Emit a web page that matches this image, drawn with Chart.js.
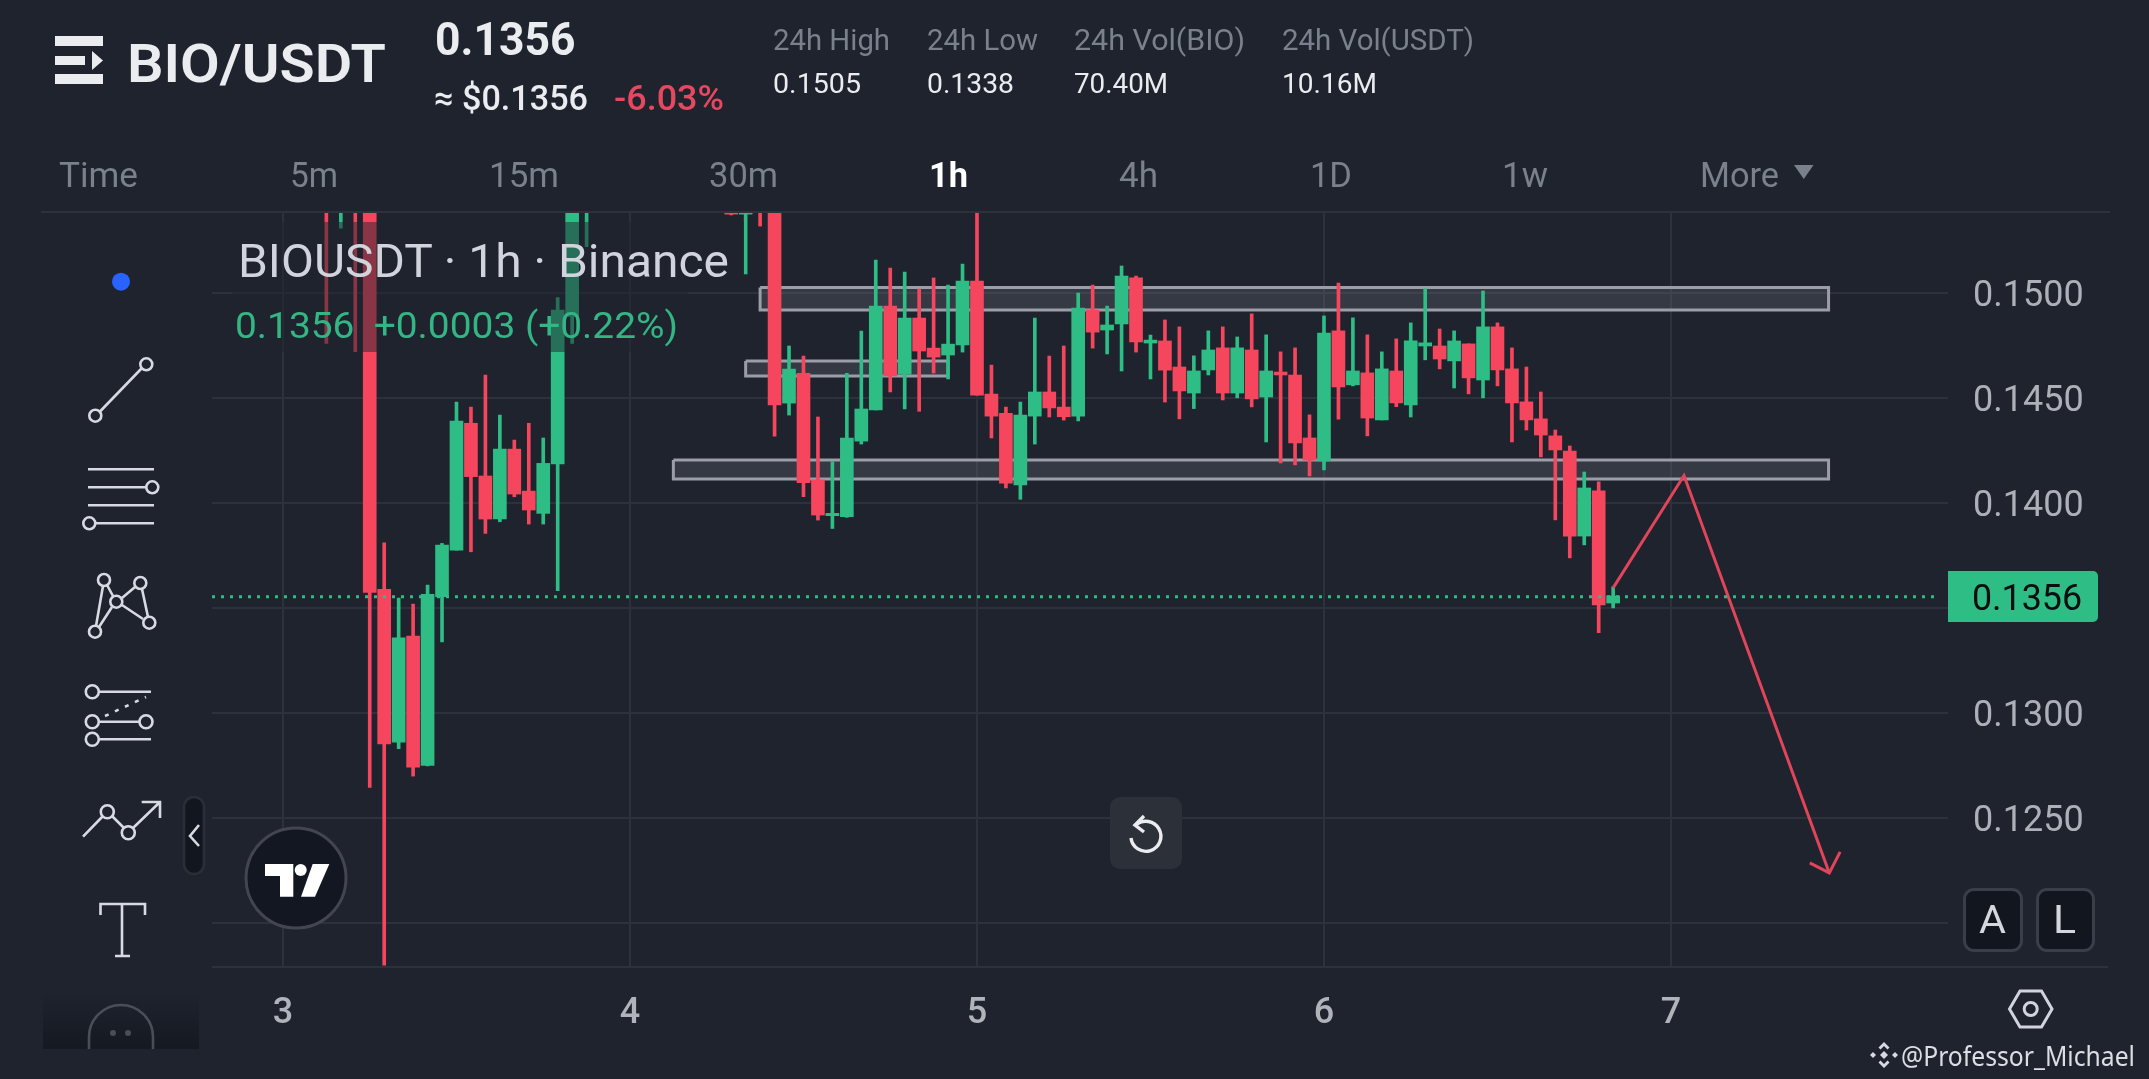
<!DOCTYPE html>
<html><head><meta charset="utf-8">
<script src="https://cdn.jsdelivr.net/npm/chart.js@4/dist/chart.umd.min.js"></script>
<style>
html,body{margin:0;padding:0;background:#1e232e;width:2149px;height:1079px;overflow:hidden}
#c{position:absolute;left:0;top:0;width:2149px;height:1079px}
.t{position:absolute;white-space:pre;transform-origin:0 50%;font-family:Roboto,sans-serif}
.box{position:absolute;box-sizing:border-box}
svg{position:absolute;left:0;top:0}
</style></head><body>
<canvas id="c" width="2149" height="1079"></canvas>
<div class="box" style="left:232px;top:222px;width:512px;height:63px;background:rgba(30,35,46,.5)"></div>
<div class="box" style="left:232px;top:285px;width:456px;height:67px;background:rgba(30,35,46,.5)"></div>
<div class="box" style="left:41px;top:211px;width:2069px;height:2px;background:#2c313b"></div>
<div class="box" style="left:212px;top:966px;width:1896px;height:2px;background:#2c313b"></div>
<div class="box" style="left:1948px;top:571px;width:150px;height:51px;background:#2ebd85;border-radius:0 5px 5px 0"></div>
<div class="box" style="left:1963px;top:888px;width:60px;height:64px;background:#12161f;border:3px solid #3a3e49;border-radius:11px"></div>
<div class="box" style="left:2036px;top:888px;width:59px;height:64px;background:#12161f;border:3px solid #3a3e49;border-radius:11px"></div>
<div class="box" style="left:1110px;top:797px;width:72px;height:72px;background:#2b3039;border-radius:10px"></div>
<div class="box" style="left:43px;top:990px;width:156px;height:59px;background:linear-gradient(#1e232e,#151921)"></div>
<svg width="2149" height="1079" viewBox="0 0 2149 1079" fill="none" stroke="#d8dae2" stroke-width="2.6">
  <!-- menu -->
  <g fill="#eaecef" stroke="none"><rect x="55" y="36" width="48" height="10"/><rect x="55" y="56" width="30" height="9"/><path d="M92 51l11 9.5-11 9.5z"/><rect x="55" y="74" width="48" height="10"/></g>
  <path d="M1794 165h19.5l-9.7 14z" fill="#7a808c" stroke="none"/>
  <circle cx="121" cy="281.7" r="9" fill="#2962ff" stroke="none"/>
  <!-- trend line tool -->
  <path d="M100 411.5L141.5 368.5"/><circle cx="95.3" cy="415.7" r="6"/><circle cx="146.3" cy="364.3" r="6"/>
  <!-- parallel lines -->
  <path d="M88 469.3h66M88 487.3h58M88 505.3h66M96 523.3h58"/><circle cx="152.3" cy="487.3" r="6"/><circle cx="89.3" cy="523.3" r="6"/>
  <!-- pattern -->
  <path d="M96 626L103 586M107 585L113 596M99 627L112 607M122 598L135 587M122 605L143 619M142 589L148 617"/>
  <circle cx="95" cy="631.7" r="6"/><circle cx="104" cy="580" r="6"/><circle cx="116.3" cy="601.7" r="6"/><circle cx="140.3" cy="583" r="6"/><circle cx="149.3" cy="622.7" r="6"/>
  <!-- fib -->
  <path d="M99 691.7h52M99 721.7h41M99 739.3h52"/><path d="M105 716L146 697" stroke-dasharray="4 7"/>
  <circle cx="92.3" cy="691.7" r="6.5"/><circle cx="92.3" cy="721.7" r="6.5"/><circle cx="146" cy="721.7" r="6.5"/><circle cx="92.3" cy="739.3" r="6.5"/>
  <!-- path arrow -->
  <path d="M83 836.7L103 816M112 816L124 828M133 828L160 802M141.7 802H160V818"/><circle cx="107.3" cy="811.7" r="6.5"/><circle cx="128.3" cy="832.7" r="6.5"/>
  <!-- T -->
  <path d="M100.5 915V904H145V915M122 904V956M115 956H130"/>
  <!-- collapse pill -->
  <rect x="184" y="797" width="20" height="77" rx="10" fill="#12161f" stroke="#2a2e38"/>
  <path d="M199 825L190 836L199 846"/>
  <!-- TV logo -->
  <circle cx="296" cy="878" r="50" fill="#131722" stroke="#434651" stroke-width="3"/>
  <g fill="#fff" stroke="none"><path d="M265 864H293.3V896.7H280V876H265z"/><circle cx="300.7" cy="870" r="6"/><path d="M312.7 864H329.3L315 896.7H301z"/></g>
  <!-- bottom partial button -->
  <path d="M89 1049V1037A32 32 0 0 1 153 1037V1049" stroke="#4a4e58"/>
  <circle cx="113" cy="1033" r="3" fill="#4a4e58" stroke="none"/><circle cx="128" cy="1033" r="3" fill="#4a4e58" stroke="none"/>
  <!-- reset -->
  <path d="M1136 825A15 15 0 1 1 1131 838" stroke="#eaecef" stroke-width="3.4"/><path d="M1144 816L1135 825L1144 832" stroke="#eaecef" stroke-width="3.4"/>
  <!-- settings hex -->
  <path d="M2020 991H2041.5L2052 1009L2041.5 1027H2020L2009.5 1009z" stroke="#d1d4dc" stroke-width="3"/><circle cx="2030.7" cy="1009" r="6.5" stroke="#d1d4dc" stroke-width="3"/>
  <!-- watermark diamond -->
  <g fill="#d8dae2" stroke="none"><path d="M1884 1042l5.5 5.5-2 2-3.5-3.5-3.5 3.5-2-2z"/><path d="M1884 1068l5.5-5.5-2-2-3.5 3.5-3.5-3.5-2 2z"/><path d="M1870 1055l3-3 3 3-3 3z"/><path d="M1892 1055l3-3 3 3-3 3z"/><path d="M1884 1051l4 4-4 4-4-4z"/></g>
</svg>
<script>
// ---- price data (hours since the start of day 3; candles entirely above the view are omitted) ----
const candleHours=[3,4,5,6,7,8,9,10,11,12,13,14,15,16,17,18,19,20,21,31,32,33,34,35,36,37,38,39,40,41,42,43,44,45,46,47,48,49,50,51,52,53,54,55,56,57,58,59,60,61,62,63,64,65,66,67,68,69,70,71,72,73,74,75,76,77,78,79,80,81,82,83,84,85,86,87,88,89,90,91,92];
const opens =[.1565,.1545,.156,.1565,.1359,.12863,.13368,.12752,.13555,.13777,.14381,.1413,.13925,.14258,.14058,.13952,.14187,.1489,.1545,.154,.15377,.1552,.155,.14477,.14619,.14111,.13941,.13936,.14296,.14444,.14939,.14615,.14882,.14739,.14706,.14754,.15058,.1452,.14428,.14087,.14415,.1453,.14458,.14415,.1492,.14825,.14854,.15073,.14763,.14773,.14649,.14525,.14635,.1474,.14525,.1473,.14506,.14625,.14611,.14311,.14202,.14821,.14564,.14621,.14397,.1463,.14468,.14749,.14749,.14678,.14759,.14587,.1484,.1464,.14483,.14402,.14321,.14249,.13844,.14059,.13525];
const closes=[.1555,.1555,.1548,.13576,.12854,.13359,.12744,.13566,.13801,.14392,.14127,.13925,.14258,.14044,.13968,.1419,.1492,.155,.155,.15377,.154,.1545,.14468,.14639,.14098,.13944,.13952,.14311,.14449,.14939,.14606,.14882,.14725,.14696,.14758,.15058,.14515,.14415,.14096,.1442,.1453,.14454,.14412,.1493,.14815,.14849,.15082,.14768,.14777,.14634,.14535,.1463,.1473,.14525,.1474,.14497,.1463,.14611,.14287,.14206,.14811,.14554,.1463,.14406,.1464,.14478,.14773,.14764,.14687,.14773,.14597,.1484,.14635,.14478,.14397,.14325,.14254,.13844,.14073,.13516,.13559];
const highs =[.158,.157,.157,.158,.13812,.13549,.1352,.13611,.13809,.14482,.14458,.14611,.1442,.14301,.14381,.14311,.1498,.156,.156,.1545,.1545,.156,.1555,.14749,.14701,.14411,.14198,.14619,.1482,.15158,.1512,.15101,.1502,.15073,.15039,.15139,.15396,.14658,.14458,.14482,.14882,.14701,.14749,.15001,.15039,.14939,.1513,.15082,.14801,.14873,.1484,.14702,.14821,.1484,.14792,.14902,.14802,.14721,.1474,.14421,.14892,.15048,.14883,.14802,.14721,.14783,.14859,.15022,.1483,.14821,.14759,.15011,.14859,.1474,.14649,.1453,.14349,.14273,.14149,.14102,.13602];
const lows  =[.14761,.1531,.14722,.12647,.11801,.12832,.12701,.12749,.1334,.13777,.13769,.13857,.13912,.14031,.13901,.13901,.13584,.14761,.15222,.15373,.15092,.1532,.1432,.1442,.14031,.1392,.1388,.13933,.14282,.14444,.1453,.14449,.14438,.1462,.14592,.1472,.14515,.14311,.14073,.14019,.14282,.14411,.14396,.14392,.14739,.14711,.1463,.1472,.14592,.14482,.14402,.14451,.14611,.14492,.14502,.14459,.14292,.14192,.14183,.1413,.14159,.144,.14559,.14321,.14397,.1446,.14411,.14683,.1464,.14549,.14521,.14502,.14559,.14292,.14349,.14221,.13921,.1374,.13802,.13384,.13502];
const lastPrice=.13555;
// ---- axes ----
const dayTicks=[0,24,48,72,96];
const dayLabels=['3','4','5','6','7'];
const priceTicks=[.15,.145,.14,.135,.13,.125,.12];
const priceLabels=['0.1500','0.1450','0.1400','','0.1300','0.1250',''];
// ---- drawn zones: [start hour, end hour, upper price, lower price] ----
const zoneTop=[33,106.9,.15027,.1492];
const zoneMid=[32,46,.14678,.14606];
const zoneLow=[27,106.9,.14206,.14116];
// ---- projected path ----
const trendHours=[92,96.9,106.95];
const trendPrices=[.13597,.14132,.1224];
const arrowHours=[105.6,106.95,107.7];
const arrowPrices=[.12288,.1224,.1234];

const UP='#2ebd85',DOWN='#f6465d';
const cols=candleHours.map((h,i)=>closes[i]>=opens[i]?UP:DOWN);
const zoneDs=z=>({type:'line',order:6,data:[{x:z[0],y:z[2]},{x:z[1],y:z[2]},{x:z[1],y:z[3]},{x:z[0],y:z[3]},{x:z[0],y:z[2]}],
  borderColor:'#9b9da7',borderWidth:3,backgroundColor:'rgba(120,124,136,.25)',fill:'shape',pointRadius:0,tension:0});
new Chart(document.getElementById('c'),{
  type:'bar',
  data:{datasets:[
    zoneDs(zoneTop),zoneDs(zoneMid),zoneDs(zoneLow),
    {order:3,data:candleHours.map((h,i)=>({x:h,y:[lows[i],highs[i]]})),backgroundColor:cols,barThickness:3,grouped:false,borderWidth:0,borderSkipped:false},
    {order:2,data:candleHours.map((h,i)=>({x:h,y:[opens[i],closes[i]]})),backgroundColor:cols,barThickness:13,grouped:false,borderWidth:0,borderSkipped:false},
    {type:'line',order:1,data:[{x:-4.91,y:lastPrice},{x:114.6,y:lastPrice}],borderColor:UP,borderWidth:3,borderDash:[3,6],pointRadius:0},
    {type:'line',order:1,data:trendHours.map((h,i)=>({x:h,y:trendPrices[i]})),borderColor:'#e2455a',borderWidth:3,pointRadius:0,tension:0},
    {type:'line',order:1,data:arrowHours.map((h,i)=>({x:h,y:arrowPrices[i]})),borderColor:'#e2455a',borderWidth:3,pointRadius:0,tension:0}
  ]},
  options:{
    responsive:false,animation:false,devicePixelRatio:1,
    layout:{padding:{left:212,top:212,right:0,bottom:0}},
    plugins:{legend:{display:false},tooltip:{enabled:false}},
    scales:{
      x:{type:'linear',offset:false,min:-4.91,max:115.16,position:'bottom',
        afterBuildTicks:s=>{s.ticks=dayTicks.map(v=>({value:v}))},
        afterFit:s=>{s.height=112},
        grid:{offset:false,color:'#2c313b',lineWidth:2,drawTicks:false},border:{display:false},
        ticks:{autoSkip:false,maxRotation:0,padding:25,color:'#b0b3ba',font:{family:'Roboto',size:36,weight:'500'},
          callback:v=>dayLabels[dayTicks.indexOf(v)]??''}},
      y:{type:'linear',position:'right',min:.11792,max:.15387,
        afterBuildTicks:s=>{s.ticks=priceTicks.map(v=>({value:v}))},
        afterFit:s=>{s.width=201},
        grid:{color:'#2c313b',lineWidth:2,drawTicks:false},border:{display:false},
        ticks:{autoSkip:false,padding:25,labelOffset:4,color:'#aeb0b7',font:{family:'Roboto',size:36},
          callback:v=>priceLabels[priceTicks.indexOf(v)]??''}}
    }
  }
});
// ---- interface text: [text, left, right, centre y, size, weight, colour, family] ----
const GREY='#7a808c',WHITE='#eaecef';
const uiText=[
 ['BIO/USDT',127,386,64,53,'600',WHITE],
 ['0.1356',435,575.5,39,46,'700',WHITE],
 ['≈ $0.1356',434,588,98,35,'500',WHITE],
 ['-6.03%',614,724,98,35,'500','#e5485f'],
 ['24h High',773,890,40,30,'400',GREY],['24h Low',927,1038,40,30,'400',GREY],
 ['24h Vol(BIO)',1074,1245,40,30,'400',GREY],['24h Vol(USDT)',1282,1474,40,30,'400',GREY],
 ['0.1505',773,861,84,28,'400',WHITE],['0.1338',927,1014,84,28,'400',WHITE],
 ['70.40M',1074,1168,84,28,'400',WHITE],['10.16M',1282,1377,84,28,'400',WHITE],
 ['Time',59,138,175,35,'400',GREY],['5m',290,338,175,35,'400',GREY],['15m',489,559,175,35,'400',GREY],
 ['30m',709,778,175,35,'400',GREY],['1h',929,968,175,35,'700','#ffffff'],['4h',1119,1158,175,35,'400',GREY],
 ['1D',1310,1352,175,35,'400',GREY],['1w',1502,1548,175,35,'400',GREY],['More',1700,1779,175,35,'400',GREY],
 ['BIOUSDT · 1h · Binance',238,729,261,46,'400','#d1d4dc'],
 ['0.1356  +0.0003 (+0.22%)',235,678,325,37,'400','#34b584'],
 ['0.1356',1972,2082,598,36,'400','#0b0e11'],
 ['A',1979,2006,920,38,'400','#d5d7de'],['L',2053,2076,920,38,'400','#d5d7de'],
 ['@Professor_Michael',1901,2135,1055,28,'400','#dcdee4','"Noto Sans"']
];
document.fonts.ready.then(()=>{
 for(const [s,x0,x1,cy,size,w,col,fam] of uiText){
  const e=document.createElement('div');e.className='t';e.textContent=s;
  e.style.cssText=`left:${x0}px;top:${cy-size/2}px;line-height:${size}px;font-size:${size}px;font-weight:${w};color:${col};`+(fam?`font-family:${fam};`:'');
  document.body.appendChild(e);
  e.style.transform=`scaleX(${(x1-x0)/e.getBoundingClientRect().width})`;
 }
});
</script>
</body></html>
